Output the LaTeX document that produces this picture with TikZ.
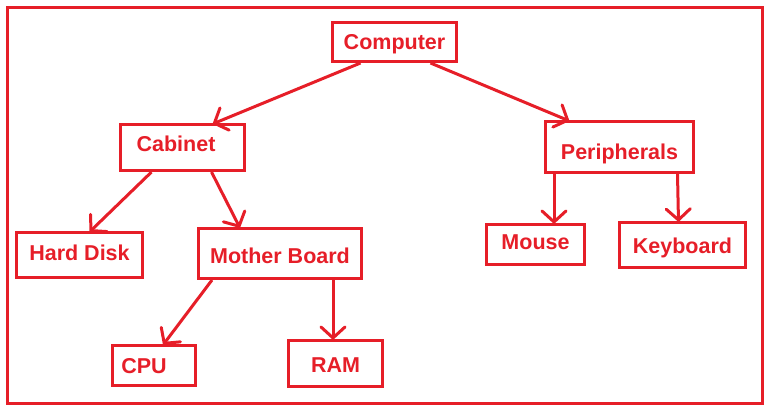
\documentclass[tikz,border=0pt]{standalone}
\usepackage{fontspec}
\setmainfont{Liberation Sans}
\usetikzlibrary{arrows.meta}
\definecolor{penred}{RGB}{230,30,40}

\begin{document}
\begin{tikzpicture}[x=1pt,y=-1pt,
    box/.style={draw=penred,line width=3pt,rectangle,inner sep=0pt,
      text=penred,font=\fontsize{21.5}{24}\selectfont\bfseries,
      text height=15.4pt,text depth=0pt},
    link/.style={draw=penred,line width=3pt,
      -{Straight Barb[length=11pt,width=24pt,line cap=round]}}]
      \useasboundingbox (0,0) rectangle (768,408);
      \draw[penred,line width=3pt] (7,7) rectangle (762,403);
      % top
      \node[box,minimum width=124pt,minimum height=39pt] (comp) at (394.5,42) {Computer};
      % second level
      \node[box,minimum width=124pt,minimum height=46pt,text depth=8pt] (cab) at (182.5,147.5) {Cabinet\hspace*{13pt}};
      \node[box,minimum width=148pt,minimum height=51pt,text height=25.4pt] (per) at (619.5,147) {Peripherals};
      % third level
      \node[box,minimum width=126pt,minimum height=45pt,text depth=4pt] (hd) at (79.5,255) {Hard Disk};
      \node[box,minimum width=163pt,minimum height=50pt,text height=19.4pt] (mb) at (280,253.5) {Mother Board};
      \node[box,minimum width=98pt,minimum height=40pt,text depth=5pt] (mouse) at (535.5,244.5) {Mouse};
      \node[box,minimum width=126pt,minimum height=45pt,text height=17.4pt] (kb) at (682.5,245) {Keyboard};
      % bottom
      \node[box,minimum width=83pt,minimum height=40pt] (cpu) at (154,365.5) {CPU\hspace*{20pt}};
      \node[box,minimum width=94pt,minimum height=46pt,text height=18.4pt] (ram) at (335.5,363.5) {RAM};
      % arrows
      \draw[link] ([xshift=-34pt]comp.south) -- ([xshift=30pt,yshift=-1pt]cab.north);
      \draw[link] ([xshift=36pt]comp.south) -- ([xshift=-50pt,yshift=-1pt]per.north);
      \draw[link] ([xshift=-31pt]cab.south) -- ([xshift=10pt,yshift=-1pt]hd.north);
      \draw[link] ([xshift=29pt]cab.south) -- ([xshift=-40pt,yshift=-1pt]mb.north);
      \draw[link] ([xshift=-68pt]mb.south) -- ([xshift=9pt,yshift=-1pt]cpu.north);
      \draw[link] ([xshift=53pt]mb.south) -- ([xshift=-2.5pt,yshift=-1pt]ram.north);
      \draw[link] ([xshift=-65.5pt]per.south) -- ([xshift=18.5pt,yshift=-1pt]mouse.north);
      \draw[link] ([xshift=58pt]per.south) -- ([xshift=-4pt,yshift=-1pt]kb.north);
\end{tikzpicture}
\end{document}
